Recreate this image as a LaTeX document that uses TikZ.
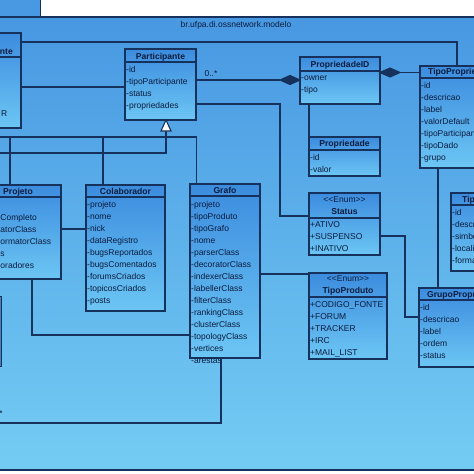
\documentclass[tikz,border=0pt]{standalone}
\usepackage{fontspec}
\setmainfont{Liberation Sans}
\definecolor{bordc}{RGB}{22,50,92}
\definecolor{txtc}{RGB}{12,28,62}
\definecolor{boxtop}{RGB}{60,140,222}
\definecolor{boxbot}{RGB}{108,198,244}
\definecolor{pkgtop}{RGB}{72,152,226}
\definecolor{pkgbot}{RGB}{116,204,243}
\definecolor{offbox}{RGB}{70,130,185}
\newcommand\attrfont{\fontsize{8.5}{10}\selectfont}
\newcommand\ttlfont{\fontsize{8.6}{10}\selectfont\bfseries}
\newcommand\enumst{<\kern0pt<\kern0pt Enum\kern0pt>\kern0pt>}
\newcommand\mkclass[6]{%
  \node[clsbox, minimum width=#4pt, minimum height=#5pt] (#1) at (#2,#3) {};
  \draw[bd] (#2,#6) -- ++(#4,0);}
\newcommand\mkattrs[4]{%
  \foreach \t [count=\i] in {#4} {\node[attr] (#1-\i) at (#2,{#3+12*(\i-1)}) {\t};}}
\begin{document}
\begin{tikzpicture}[x=1pt,y=-1pt,
  bd/.style={draw=bordc, line width=1.1pt},
  clsbox/.style={bd, rectangle, top color=boxtop, bottom color=boxbot, inner sep=0, outer sep=0, anchor=north west},
  conn/.style={draw=bordc, line width=1.1pt},
  attr/.style={anchor=west, inner sep=0, font=\attrfont, text=txtc, text height=6pt, text depth=0pt},
  ttl/.style={inner sep=0, font=\ttlfont, text=txtc, text height=6pt, text depth=0pt},
  stereo/.style={inner sep=0, font=\attrfont, text=txtc, text height=6pt, text depth=0pt},
  mult/.style={inner sep=0, font=\attrfont, text=txtc, text height=6pt, text depth=0pt}]
\useasboundingbox (0,0) rectangle (474,474);
\clip (0,0) rectangle (474,474);
\fill[white] (0,0) rectangle (474,474);
% package tab and body
\node[draw=bordc, line width=0.8pt, fill=pkgtop, minimum width=50pt, minimum height=25pt, inner sep=0, outer sep=0, anchor=south east] (tab) at (40,17) {};
\node[draw=bordc, line width=1.1pt, top color=pkgtop, bottom color=pkgbot, minimum width=494pt, minimum height=453pt, inner sep=0, outer sep=0, anchor=north west] (pkg) at (-10,17) {};
\node[stereo] (pkgname) at (236,24) {br.ufpa.di.ossnetwork.modelo};

% off-screen box at left
\node[draw=bordc, line width=0.8pt, fill=offbox, minimum width=30pt, minimum height=70pt, inner sep=0, outer sep=0, anchor=north west] (offb) at (-28.5,296) {};

% left partial class
\mkclass{lft}{-40}{33}{61}{95}{57}
\node[ttl, anchor=east] (lft-t) at (13,51) {nte};
\node[attr] (lft-r) at (1,113) {R};

% Participante
\mkclass{part}{125}{49}{71}{71}{62}
\node[ttl] (part-t) at (160.5,56) {Participante};
\mkattrs{part}{126}{69}{-id,-tipoParticipante,-status,-propriedades}

% PropriedadeID
\mkclass{pid}{300}{57}{80}{47}{71}
\node[ttl] (pid-t) at (340,64) {PropriedadeID};
\mkattrs{pid}{301}{77}{-owner,-tipo}

% TipoPropriedade
\mkclass{tprop}{420}{66}{85}{102}{78}
\node[ttl, anchor=west] (tprop-t) at (428,71.5) {TipoPropriedade};
\mkattrs{tprop}{421}{85}{-id,-descricao,-label,-valorDefault,-tipoParticipante,-tipoDado,-grupo}

% Propriedade
\mkclass{prop}{309}{137}{71}{39}{150}
\node[ttl] (prop-t) at (344.5,143.5) {Propriedade};
\mkattrs{prop}{310}{157}{-id,-valor}

% right partial class
\mkclass{tdado}{451}{193}{70}{78}{205}
\node[ttl, anchor=west] (tdado-t) at (462,199) {TipoDado};
\mkattrs{tdado}{452}{212}{-id,-descricao,-simbolo,-localizacao,-formato}

% GrupoPropriedade
\mkclass{grupo}{419}{288}{90}{79}{300}
\node[ttl, anchor=west] (grupo-t) at (427,294) {GrupoPropriedade};
\mkattrs{grupo}{420}{307}{-id,-descricao,-label,-ordem,-status}

% Status
\mkclass{status}{309}{193}{71}{62}{218}
\node[stereo] (status-s) at (344.5,199) {\enumst};
\node[ttl] (status-t) at (344.5,211) {Status};
\mkattrs{status}{310}{224}{+ATIVO,+SUSPENSO,+INATIVO}

% TipoProduto
\mkclass{tprod}{309}{273}{78}{86}{297}
\node[stereo] (tprod-s) at (348,278) {\enumst};
\node[ttl] (tprod-t) at (348,290) {TipoProduto};
\mkattrs{tprod}{310}{304}{+CODIGO\_FONTE,+FORUM,+TRACKER,+IRC,+MAIL\_LIST}

% Projeto
\mkclass{proj}{-25}{185}{86}{94}{197}
\node[ttl] (proj-t) at (18,191) {Projeto};
\mkattrs{proj}{0.3}{217}{Completo,atorClass,ormatorClass,s,oradores}

% Colaborador
\mkclass{colab}{86}{185}{79}{126}{197}
\node[ttl] (colab-t) at (125.5,191) {Colaborador};
\mkattrs{colab}{87}{204}{-projeto,-nome,-nick,-dataRegistro,-bugsReportados,-bugsComentados,-forumsCriados,-topicosCriados,-posts}

% Grafo
\mkclass{grafo}{190}{184}{70}{174}{196}
\node[ttl] (grafo-t) at (225,190) {Grafo};
\mkattrs{grafo}{191}{204}{-projeto,-tipoProduto,-tipoGrafo,-nome,-parserClass,-decoratorClass,-indexerClass,-labellerClass,-filterClass,-rankingClass,-clusterClass,-topologyClass,-vertices,-arestas}

% connectors
\coordinate (lend) at (-5,423);
\coordinate (genl) at (-5,153);
\coordinate (genl2) at (-5,137);
\coordinate (j1) at (10,137);
\coordinate (j2) at (103,137);
\draw[conn] (lft.east |- 0,42) -| (457,0 |- tprop.north);
\draw[conn] (lft.east |- 0,87) -- (part.west |- 0,87);
\draw[conn] (part.east |- 0,80) -- ([xshift=-20pt]pid.west |- 0,80);
\node[mult] (m1) at (211,73) {0..*};
\draw[conn] (part.east |- 0,104) -- (280,104) |- (status.west |- 0,216);
\draw[conn] ([xshift=20pt]pid.east |- 0,72.5) -- (tprop.west |- 0,72.5);
\draw[conn] (309,0 |- pid.south) -- (309,0 |- prop.north);
\draw[conn] (438,0 |- tprop.south) -- (438,0 |- grupo.north);
\draw[conn] (status.east |- 0,236) -- (405,236) |- (grupo.west |- 0,317);
\draw[conn] (grafo.east |- 0,274) -- (tprod.west |- 0,274);
\draw[conn] (proj.east |- 0,229) -- (colab.west |- 0,229);
\draw[conn] (32,0 |- proj.south) |- (grafo.west |- 0,335);
\draw[conn] (221,0 |- grafo.south) |- (lend);
\draw[conn] (genl) -| (166,131);
\draw[conn] (genl2) -| (196.5,0 |- grafo.north);
\draw[conn] (j1) -- (10,0 |- proj.north);
\draw[conn] (j2) -- (103,0 |- colab.north);
\node[mult, anchor=east] (m2) at (3,413) {*};
% markers
\draw[conn, fill=bordc] (pid.west |- 0,80) -- ++(-10,-4.5) -- ++(-10,4.5) -- ++(10,4.5) -- cycle;
\draw[conn, fill=bordc] (pid.east |- 0,72.5) -- ++(10,-4.5) -- ++(10,4.5) -- ++(-10,4.5) -- cycle;
\draw[conn, fill=white] (166,0 |- part.south) -- ++(5,11) -- ++(-10,0) -- cycle;
\end{tikzpicture}
\end{document}
